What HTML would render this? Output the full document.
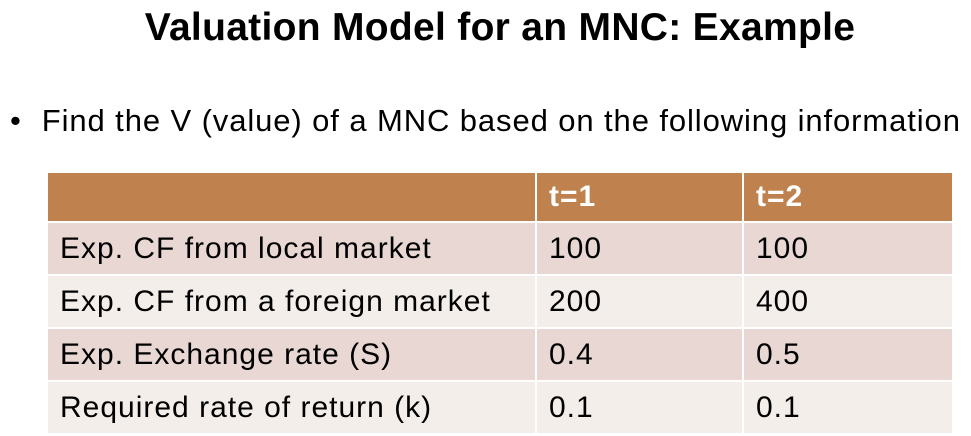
<!DOCTYPE html>
<html><head><meta charset="utf-8"><style>
body{margin:0;width:971px;height:436px;overflow:hidden;background:#fff;font-family:"Liberation Sans",sans-serif;position:relative}
.t{position:absolute;white-space:nowrap;color:#000}
#title{left:0;width:1000px;text-align:center;top:6px;font-size:39px;font-weight:bold;letter-spacing:0.3px}
#bullet{left:10px;top:103px;font-size:31px;letter-spacing:0.9px}
#bullet span{margin-right:20px}
table{position:absolute;left:46px;top:171px;border-collapse:collapse;font-size:30px;letter-spacing:1px}
td{border:2px solid #fff;padding:0 0 0 12px;height:51px;vertical-align:middle}
tr.h td{background:#BF824E;color:#fff;font-weight:bold;height:48px}
tr.o td{background:#E8D7D2}
tr.e td{background:#F3EEEA}
</style></head><body>
<div class="t" id="title">Valuation Model for an MNC: Example</div>
<div class="t" id="bullet"><span>•</span>Find the V (value) of a MNC based on the following information</div>
<table>
<tr class="h"><td style="width:475px"></td><td style="width:193px">t=1</td><td style="width:196px">t=2</td></tr>
<tr class="o"><td>Exp. CF from local market</td><td>100</td><td>100</td></tr>
<tr class="e"><td>Exp. CF from a foreign market</td><td>200</td><td>400</td></tr>
<tr class="o"><td>Exp. Exchange rate (S)</td><td>0.4</td><td>0.5</td></tr>
<tr class="e"><td>Required rate of return (k)</td><td>0.1</td><td>0.1</td></tr>
</table>
</body></html>
